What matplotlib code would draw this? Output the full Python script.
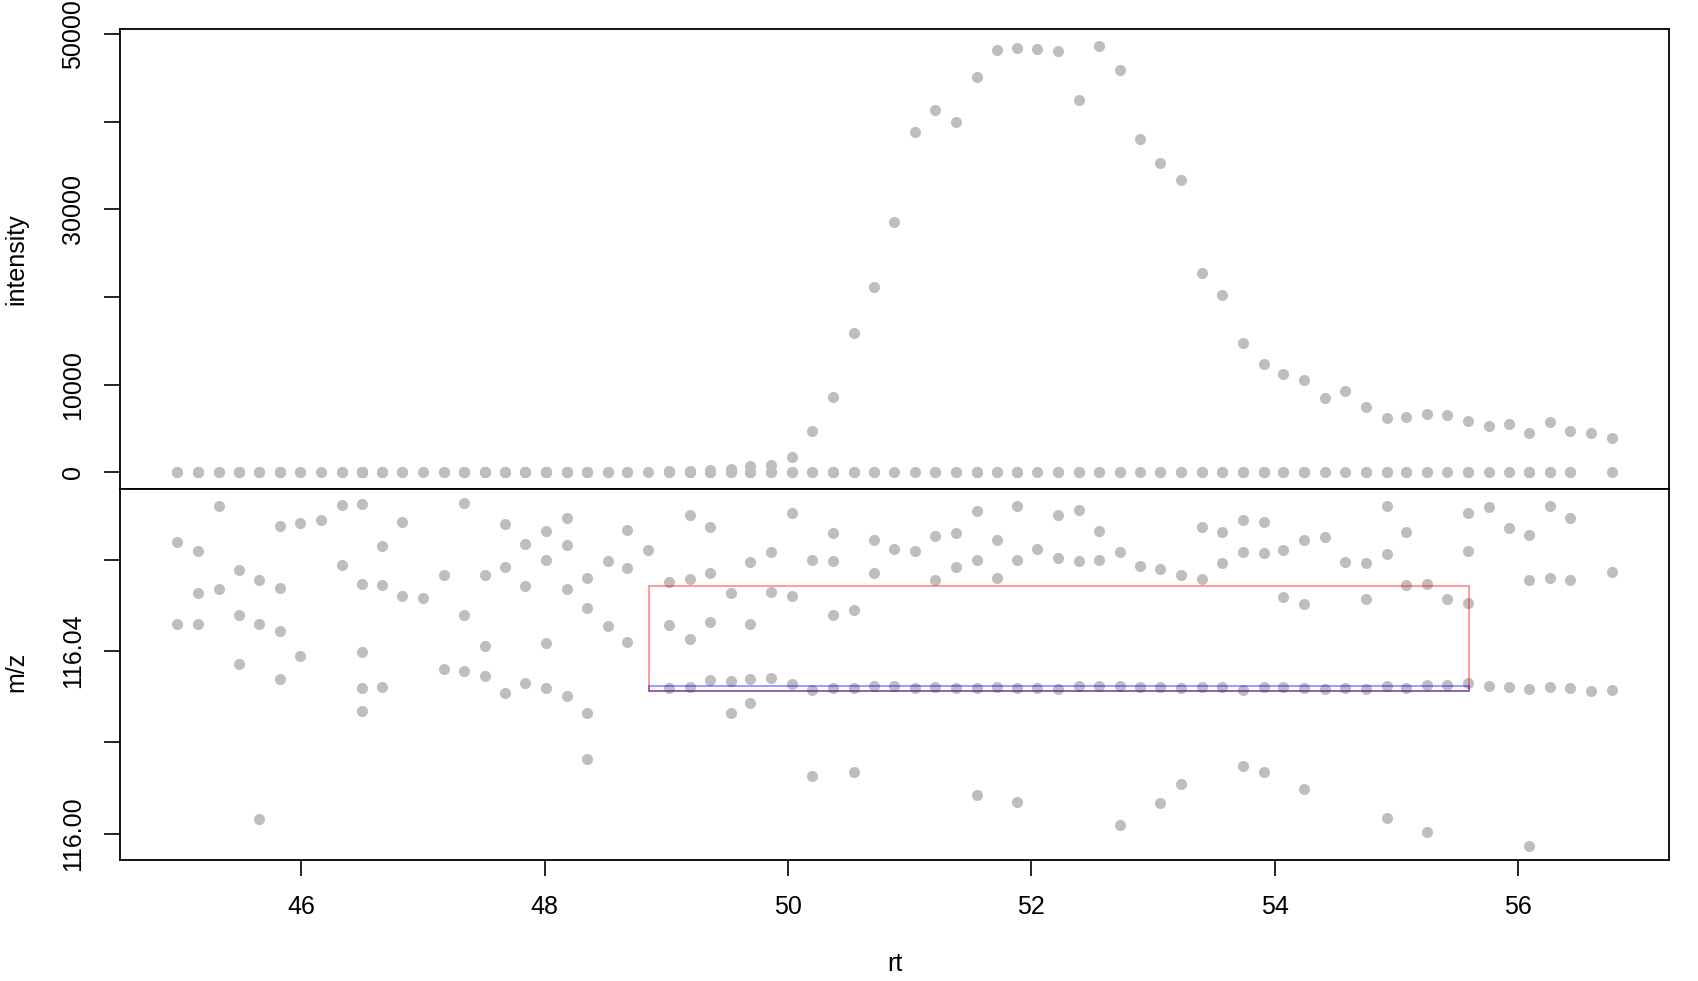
import matplotlib
matplotlib.use("Agg")
import matplotlib.pyplot as plt
from matplotlib.patches import Rectangle

plt.rcParams['font.family'] = ['Liberation Sans', 'DejaVu Sans']

# ---------------- data ----------------
# retention time of every scan
rt = [44.98, 45.15, 45.32, 45.49, 45.65, 45.82, 45.99, 46.16, 46.33, 46.50,
      46.66, 46.83, 47.00, 47.17, 47.34, 47.51, 47.67, 47.84, 48.01, 48.18,
      48.35, 48.52, 48.68, 48.85, 49.02, 49.19, 49.36, 49.53, 49.69, 49.86,
      50.03, 50.20, 50.37, 50.54, 50.71, 50.87, 51.04, 51.21, 51.38, 51.55,
      51.72, 51.88, 52.05, 52.22, 52.39, 52.56, 52.73, 52.89, 53.06, 53.23,
      53.40, 53.57, 53.74, 53.91, 54.07, 54.24, 54.41, 54.58, 54.75, 54.92,
      55.08, 55.25, 55.42, 55.59, 55.76, 55.93, 56.09, 56.26, 56.43, 56.60,
      56.77]

# main ion trace (present from scan 24 to the last scan)
trace_first_scan = 24
trace_intensity = [150, 200, 250, 350, 700, 830, 1710, 4740, 8590, 15920,
                   21170, 28510, 38770, 41350, 39980, 45040, 48120, 48350, 48270, 48040,
                   42490, 48580, 45910, 38010, 35240, 33330, 22690, 20250, 14800, 12400,
                   11200, 10500, 8480, 9250, 7450, 6200, 6350, 6700, 6600, 5850,
                   5300, 5500, 4500, 5750, 4750, 4550, 3900]
trace_mz = [116.03186, 116.03201, 116.03354, 116.03347, 116.03392, 116.03414, 116.03274, 116.03151, 116.03179, 116.03186,
            116.03238, 116.03223, 116.03195, 116.03216, 116.03195, 116.03195, 116.03216, 116.03195, 116.03195, 116.03173,
            116.03223, 116.03238, 116.03238, 116.03216, 116.03201, 116.03195, 116.03216, 116.03201, 116.03151, 116.03216,
            116.03216, 116.03195, 116.03158, 116.03186, 116.03158, 116.03238, 116.03195, 116.03260, 116.03245, 116.03289,
            116.03238, 116.03201, 116.03173, 116.03208, 116.03186, 116.03129, 116.03151]

# low-intensity noise peaks: scan index and m/z
noise_scan = [0, 0,
              1, 1, 1,
              2, 2,
              3, 3, 3,
              4, 4, 4,
              5, 5, 5, 5,
              6, 6,
              7,
              8, 8,
              9, 9, 9, 9, 9,
              10, 10, 10,
              11, 11,
              12,
              13, 13,
              14, 14, 14,
              15, 15, 15,
              16, 16, 16,
              17, 17, 17,
              18, 18, 18, 18,
              19, 19, 19, 19,
              20, 20, 20, 20,
              21, 21,
              22, 22, 22,
              23,
              24, 24,
              25, 25, 25,
              26, 26, 26,
              27, 27,
              28, 28, 28,
              29, 29,
              30, 30,
              31, 31,
              32, 32, 32,
              33, 33,
              34, 34,
              35,
              36,
              37, 37,
              38, 38,
              39, 39, 39,
              40, 40,
              41, 41, 41,
              42,
              43, 43,
              44, 44,
              45, 45,
              46, 46,
              47,
              48, 48,
              49, 49,
              50, 50,
              51, 51,
              52, 52, 52,
              53, 53, 53,
              54, 54,
              55, 55, 55,
              56,
              57,
              58, 58,
              59, 59, 59,
              60, 60,
              61, 61,
              62,
              63, 63, 63,
              64,
              65,
              66, 66, 66,
              67, 67,
              68, 68,
              70]
noise_mz = [116.0640, 116.0460,
            116.0620, 116.0527, 116.0460,
            116.0718, 116.0535,
            116.0577, 116.0478, 116.0371,
            116.0555, 116.0460, 116.0032,
            116.0675, 116.0538, 116.0443, 116.0338,
            116.0681, 116.0390,
            116.0688,
            116.0720, 116.0588,
            116.0723, 116.0546, 116.0397, 116.0320, 116.0268,
            116.0630, 116.0545, 116.0321,
            116.0683, 116.0521,
            116.0517,
            116.0567, 116.0361,
            116.0724, 116.0478, 116.0357,
            116.0567, 116.0412, 116.0345,
            116.0679, 116.0584, 116.0309,
            116.0635, 116.0542, 116.0331,
            116.0664, 116.0600, 116.0417, 116.0320,
            116.0691, 116.0632, 116.0536, 116.0301,
            116.0561, 116.0495, 116.0265, 116.0164,
            116.0597, 116.0454,
            116.0665, 116.0582, 116.0419,
            116.0621,
            116.0551, 116.0457,
            116.0699, 116.0558, 116.0426,
            116.0671, 116.0570, 116.0463,
            116.0527, 116.0265,
            116.0596, 116.0460, 116.0285,
            116.0616, 116.0529,
            116.0703, 116.0521,
            116.0600, 116.0126,
            116.0658, 116.0598, 116.0478,
            116.0489, 116.0135,
            116.0644, 116.0570,
            116.0624,
            116.0620,
            116.0653, 116.0556,
            116.0658, 116.0585,
            116.0707, 116.0600, 116.0085,
            116.0644, 116.0561,
            116.0719, 116.0600, 116.0070,
            116.0624,
            116.0699, 116.0605,
            116.0710, 116.0597,
            116.0664, 116.0600,
            116.0618, 116.0019,
            116.0587,
            116.0580, 116.0067,
            116.0566, 116.0109,
            116.0672, 116.0558,
            116.0660, 116.0592,
            116.0687, 116.0616, 116.0147,
            116.0682, 116.0614, 116.0134,
            116.0622, 116.0519,
            116.0644, 116.0502, 116.0098,
            116.0651,
            116.0596,
            116.0592, 116.0515,
            116.0719, 116.0612, 116.0034,
            116.0660, 116.0545,
            116.0546, 116.0004,
            116.0515,
            116.0703, 116.0619, 116.0505,
            116.0716,
            116.0670,
            116.0654, 116.0556, 115.9972,
            116.0718, 116.0561,
            116.0692, 116.0555,
            116.0574]
noise_intensity = 0

# integrated chromatographic peak region (red) and its m/z core (blue)
peak_rt_range = (48.855, 55.597)
peak_mz_range = (116.0313, 116.0542)
core_mz_range = (116.0313, 116.0323)

x_ticks = [46, 48, 50, 52, 54, 56]
int_ticks = [0, 10000, 20000, 30000, 40000, 50000]
int_tick_labels = ["0", "10000", "", "30000", "", "50000"]
mz_ticks = [116.00, 116.02, 116.04, 116.06]
mz_tick_labels = ["116.00", "", "116.04", ""]

# ---------------- drawing ----------------
W, H = 1699, 981
fig = plt.figure(figsize=(W / 100, H / 100), dpi=100)
left, right = 120 / W, 1669 / W
y_top, y_sep, y_bot = 29.3, 489.5, 860
ax1 = fig.add_axes([left, 1 - y_sep / H, right - left, (y_sep - y_top) / H])
ax2 = fig.add_axes([left, 1 - y_bot / H, right - left, (y_bot - y_sep) / H])

dot = dict(marker='o', linestyle='none', color='#BEBEBE', markersize=8.0,
           markeredgewidth=0)

noise_rt = [rt[i] for i in noise_scan]
trace_rt = rt[trace_first_scan:]

ax1.plot(noise_rt, [noise_intensity] * len(noise_rt), **dot)
ax1.plot(trace_rt, trace_intensity, **dot)

ax2.plot(noise_rt, noise_mz, **dot)
ax2.plot(trace_rt, trace_mz, **dot)

ax2.add_patch(Rectangle((peak_rt_range[0], peak_mz_range[0]),
                        peak_rt_range[1] - peak_rt_range[0],
                        peak_mz_range[1] - peak_mz_range[0],
                        fill=False, edgecolor=(1, 0, 0, 0.5), linewidth=1.1, zorder=5))
ax2.add_patch(Rectangle((peak_rt_range[0], core_mz_range[0]),
                        peak_rt_range[1] - peak_rt_range[0],
                        core_mz_range[1] - core_mz_range[0],
                        fill=False, edgecolor=(0, 0, 1, 0.5), linewidth=1.1, zorder=6))

# R-style 4% axis expansion
xr = max(rt) - min(rt)
xlim = (min(rt) - 0.04 * xr, max(rt) + 0.04 * xr)
imax = max(trace_intensity)
all_mz = noise_mz + trace_mz
mr = max(all_mz) - min(all_mz)
for ax in (ax1, ax2):
    ax.set_xlim(*xlim)
ax1.set_ylim(-0.04 * imax, 1.04 * imax)
ax2.set_ylim(min(all_mz) - 0.04 * mr, max(all_mz) + 0.04 * mr)

for ax in (ax1, ax2):
    for s in ax.spines.values():
        s.set_linewidth(1.3)
        s.set_color('black')
    ax.tick_params(axis='both', direction='out', length=11.3, width=1.2,
                   labelsize=18, colors='black')
    ax.tick_params(axis='y', pad=14)

ax1.tick_params(axis='x', bottom=False, labelbottom=False)
ax1.set_yticks(int_ticks)
ax1.set_yticklabels(int_tick_labels, rotation=90, va='center')
ax2.set_yticks(mz_ticks)
ax2.set_yticklabels(mz_tick_labels, rotation=90, va='center')
ax2.set_xticks(x_ticks)
ax2.set_xticklabels([str(t) for t in x_ticks])
ax2.tick_params(axis='x', pad=14)

fig.text(16 / W, 1 - 259 / H, "intensity", rotation=90, ha='center', va='center', fontsize=18)
fig.text(16 / W, 1 - 672 / H, "m/z", rotation=90, ha='center', va='center', fontsize=18)
fig.text(894.5 / W, 1 - 964 / H, "rt", ha='center', va='center', fontsize=18)

fig.savefig("out.png", dpi=100)
